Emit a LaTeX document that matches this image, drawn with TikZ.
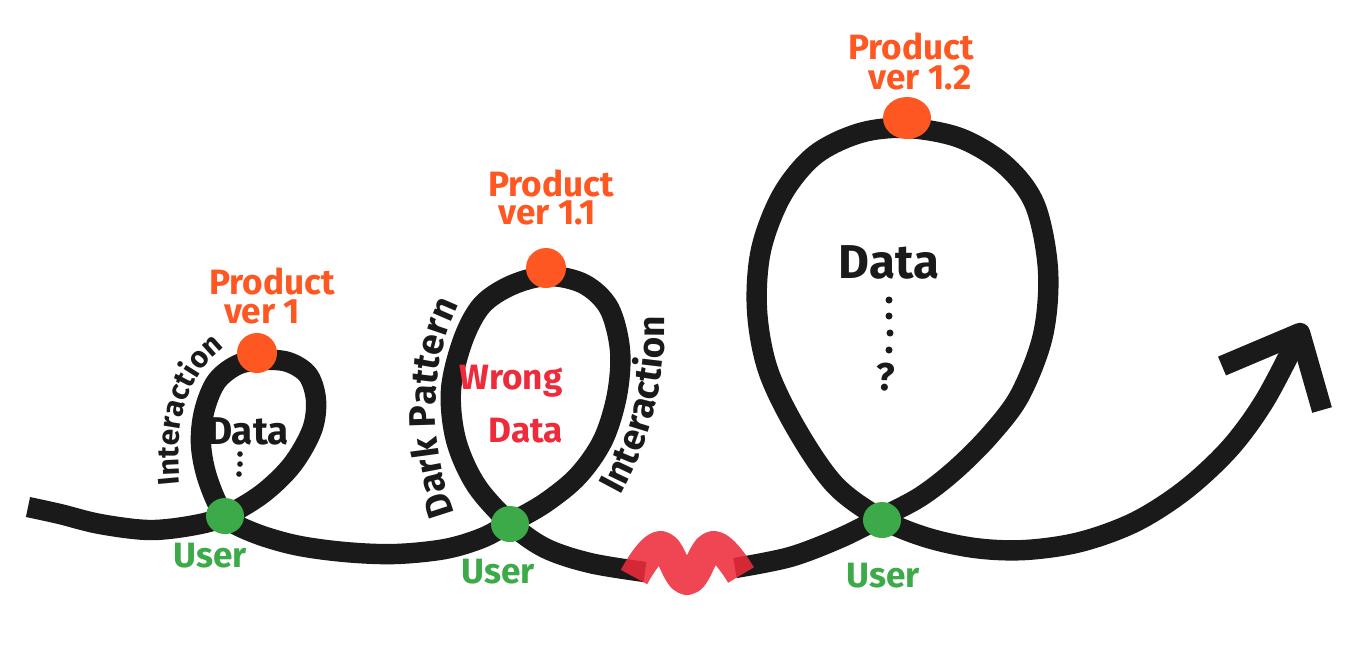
\documentclass[tikz,border=0pt]{standalone}
\usepackage{fontspec}
\setmainfont{Fira Sans}
\usetikzlibrary{positioning, shapes.geometric, decorations.text}
\definecolor{ink}{HTML}{1A1A1A}
\definecolor{prodorange}{HTML}{FF5722}
\definecolor{usergreen}{HTML}{3DAA4A}
\definecolor{wrongred}{HTML}{EE2B3B}
\newcommand{\smallhand}{\bfseries\fontsize{8.5}{8.5}\selectfont}
\newcommand{\bighand}{\bfseries\fontsize{10.5}{10.5}\selectfont}
\begin{document}
\begin{tikzpicture}[x=0.01cm, y=-0.01cm,
    track/.style={draw=ink, line width=5.8pt, line join=round},
    userdot/.style={ellipse, fill=usergreen, inner sep=0pt, minimum width=0.38cm, minimum height=0.36cm},
    proddot/.style={ellipse, fill=prodorange, inner sep=0pt, minimum width=0.40cm, minimum height=0.40cm},
    userlbl/.style={text=usergreen, inner sep=0pt, font=\bfseries\fontsize{10}{10}\selectfont},
    prodlbl/.style={text=prodorange, inner sep=0pt, font=\bfseries\fontsize{10}{10}\selectfont},
    inklbl/.style={text=ink, inner sep=0pt, font=\bfseries\fontsize{#1}{#1}\selectfont},
    wronglbl/.style={text=wrongred, inner sep=0pt, font=\bfseries\fontsize{10}{10}\selectfont},
    curvedlbl/.style={decorate, decoration={text along path, text align=center, text color=ink, text={#1}}}]
    \useasboundingbox (0,0) rectangle (1358,644);

    % Track through the first two loops
    \draw[track] plot[smooth, tension=0.55] coordinates {
        (28,507) (60,514) (100,524) (150,530) (195,525) (225,516)
        (262,494) (292,465) (312,430) (316,400) (308,375) (288,362) (262,360)
        (237,365) (216,382) (204,412) (201,445) (208,480) (225,516)
        (252,532) (295,545) (345,552) (395,554) (445,549) (482,538) (510,523)
        (545,503) (578,476) (603,440) (617,395) (620,350) (609,308) (584,284)
        (548,276) (512,285) (482,305) (463,340) (451,390) (456,440) (476,485)
        (510,523) (545,548) (590,563) (645,572)};

    % Track through the big loop
    \draw[track] plot[smooth, tension=0.55] coordinates {
        (735,568) (790,557) (840,538) (880,518) (920,497) (955,470) (990,435)
        (1020,395) (1043,335) (1048,270) (1035,205) (1005,165) (960,138)
        (907,128) (860,133) (815,155) (782,195) (761,250) (757,310) (768,370)
        (797,430) (835,485) (880,518) (925,537) (975,548) (1025,550)
        (1080,542) (1135,522) (1185,490) (1230,448) (1265,400) (1298,337)};

    % Arrow head
    \coordinate (tip) at (1300,333);
    \coordinate (armL) at (1222,366);
    \coordinate (armR) at (1322,410);
    \draw[track] (armL) -- (tip) -- (armR);

    % Scribble
    \draw[wrongred, line width=0.30cm, opacity=0.88, line join=round]
        plot[smooth, tension=0.7] coordinates {(634,577) (661,546) (687,580) (713,546) (741,575)};

    % Dots
    \node[userdot] (user1) at (225,516) {};
    \node[userdot] (user2) at (510,524) {};
    \node[userdot] (user3) at (882,520) {};
    \node[proddot] (dot1) at (257,353) {};
    \node[proddot] (dot2) at (546,268) {};
    \node[proddot, minimum width=0.48cm, minimum height=0.42cm] (dot3) at (907,118) {};

    % Labels
    \node[userlbl] (lbl1) at (210,556) {User};
    \node[userlbl] (lbl2) at (498,572) {User};
    \node[userlbl] (lbl3) at (883,576) {User};

    \node[prodlbl] (prod1) at (272,281) {Product};
    \node[prodlbl] (ver1) at (262,312) {ver 1};
    \node[prodlbl] (prod2) at (551,183) {Product};
    \node[prodlbl] (ver2) at (547,213) {ver 1.1};
    \node[prodlbl] (prod3) at (911,46) {Product};
    \node[prodlbl] (ver3) at (920,78) {ver 1.2};

    \path[curvedlbl={|\smallhand|Interaction}] (182,500) .. controls (172,435) and (180,372) .. (238,338);
    \node[inklbl=11] (data1) at (248,431) {Data};
    \fill[ink] (240,454) circle (0.8pt) (240,464) circle (0.8pt) (239,474) circle (0.8pt);

    \path[curvedlbl={|\bighand|Dark Pattern}] (460,528) .. controls (432,460) and (420,370) .. (466,290);
    \node[wronglbl] (wrong) at (511,381) {Wrong};
    \node[wronglbl] (wdata) at (526,431) {Data};
    \path[curvedlbl={|\bighand|Interaction}] (612,510) .. controls (646,455) and (670,380) .. (664,300);

    \node[inklbl=13.5] (data3) at (889,262) {Data};
    \fill[ink] (889,300) circle (1pt) (889,316) circle (1pt) (890,333) circle (1pt) (889,350) circle (1pt);
    \node[inklbl=11] (quest) at (886,377) {?};
\end{tikzpicture}
\end{document}
